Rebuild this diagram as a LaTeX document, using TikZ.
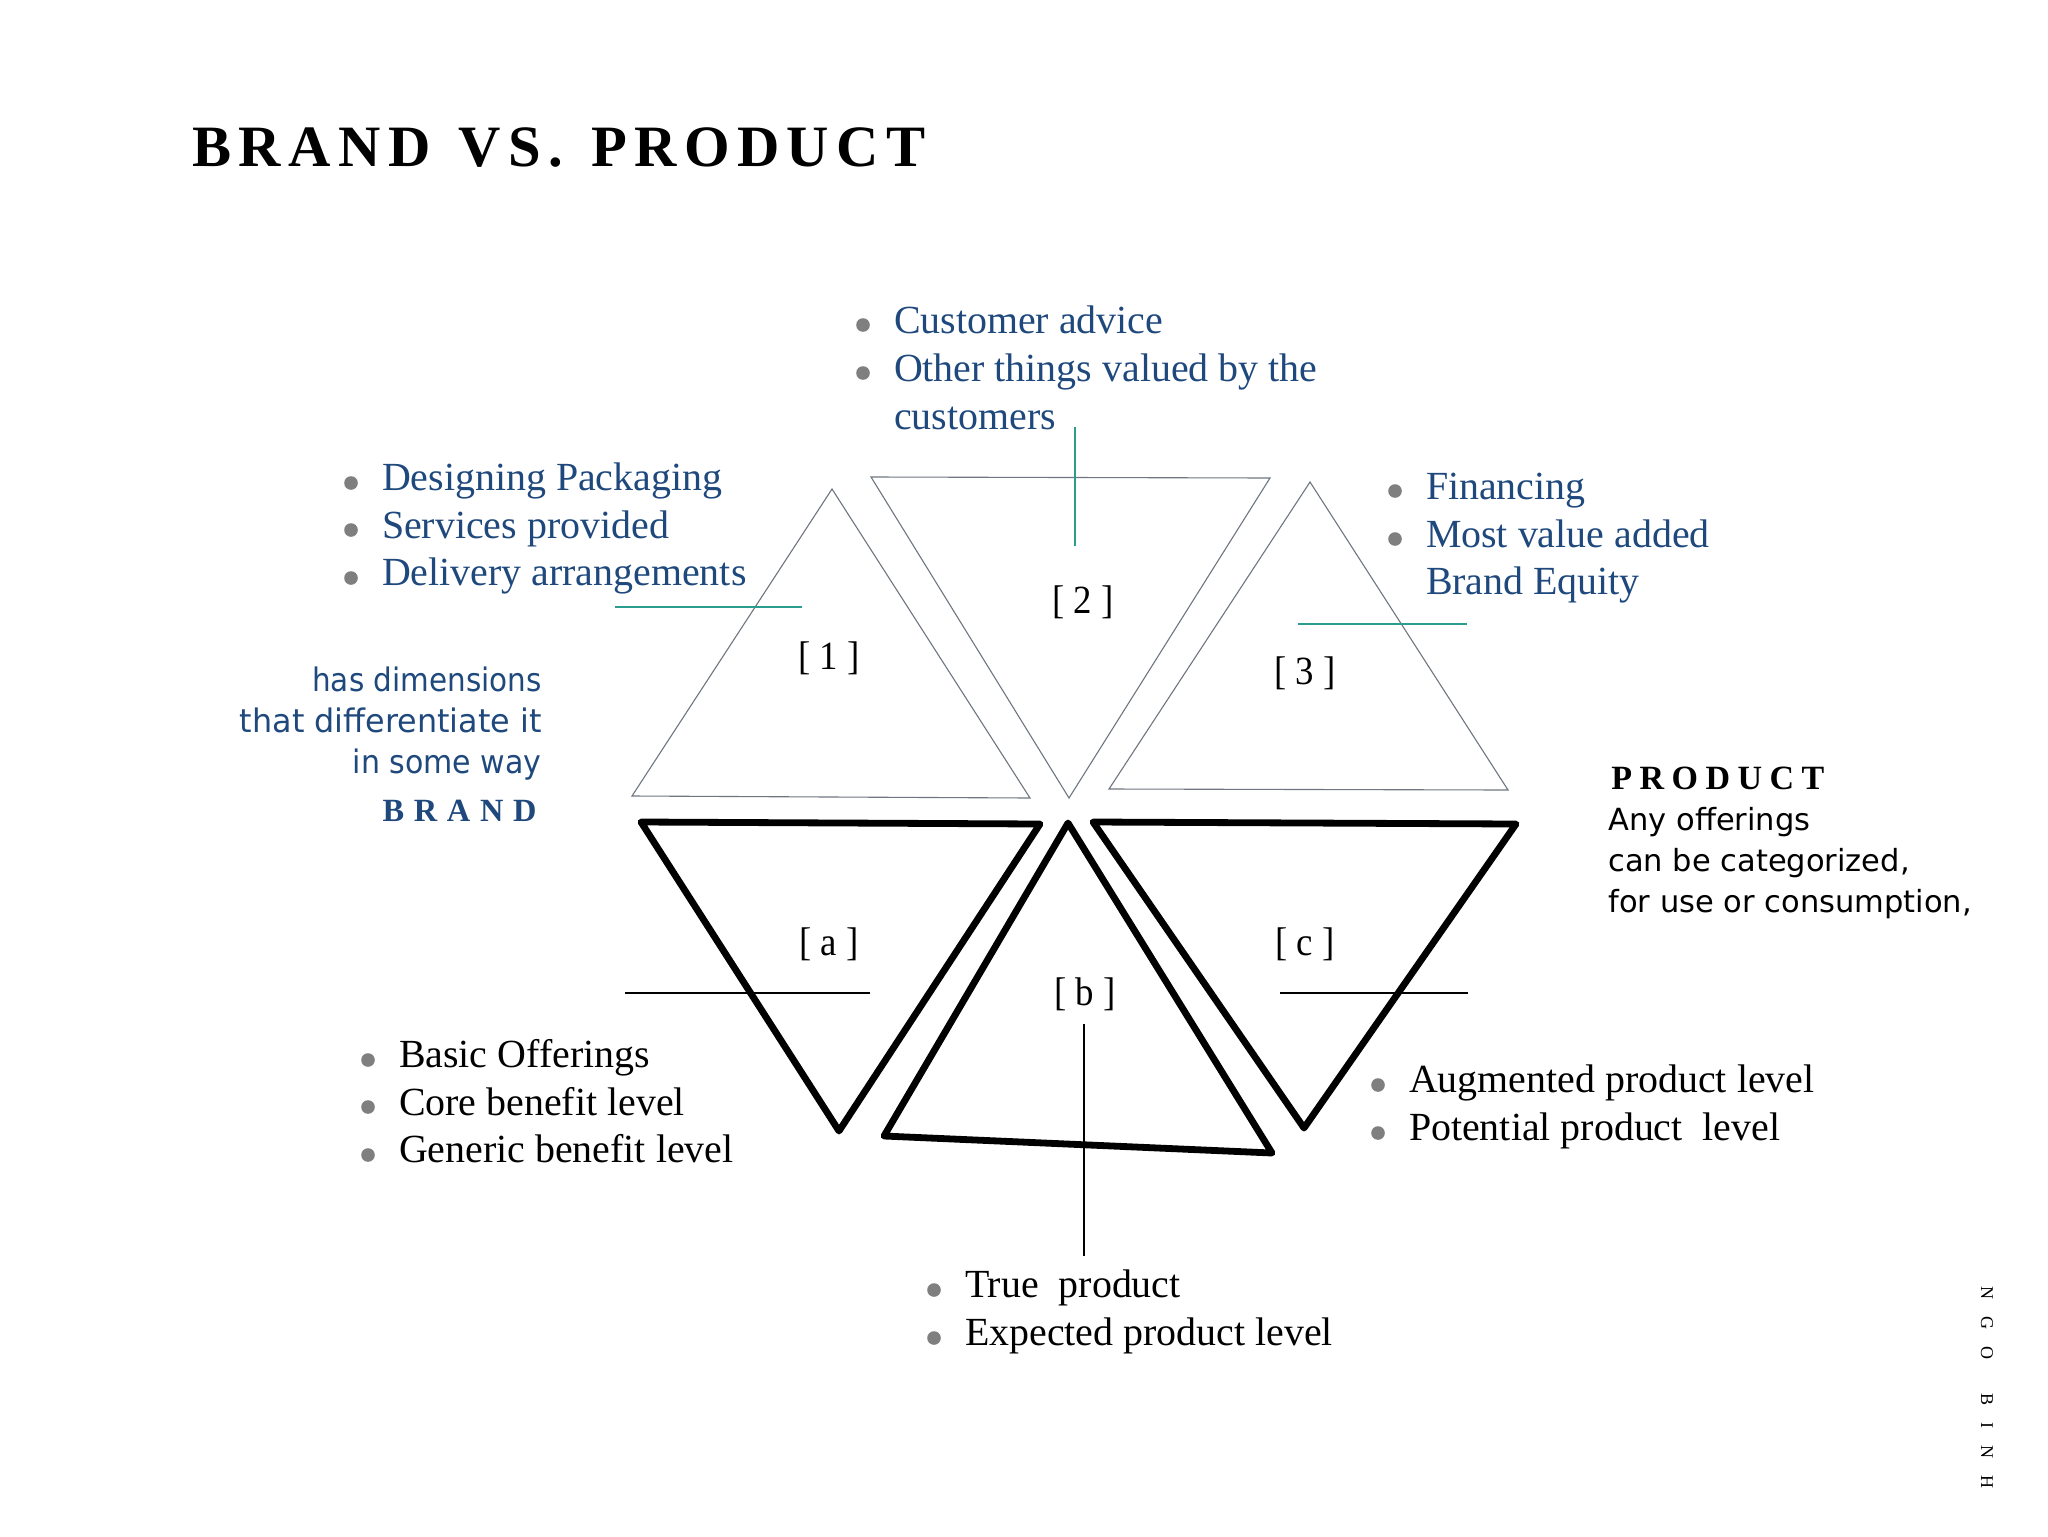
\documentclass[tikz,border=0pt]{standalone}
\usepackage{fontspec}
\setmainfont{Liberation Serif}
\newfontfamily\brandsans[FakeStretch=0.94]{DejaVu Sans}
\newfontfamily\prodsans{DejaVu Sans}
\newfontfamily\titlefont[LetterSpace=12.7]{Liberation Serif}
\newfontfamily\headfont[LetterSpace=30]{Liberation Serif}
\newfontfamily\prodheadfont[LetterSpace=22]{Liberation Serif}
\newfontfamily\sidefont[LetterSpace=95]{Liberation Serif}
\newcommand{\brk}[1]{\scalebox{.92}[1]{#1}}
\definecolor{navy}{HTML}{1F497D}
\definecolor{tealline}{HTML}{2A9D8F}
\definecolor{bulletgray}{HTML}{7F7F7F}
\definecolor{thinline}{HTML}{6F7680}
\tikzset{
  txt/.style={anchor=base west,inner sep=0pt,outer sep=0pt,font=\fontsize{19.95}{24}\selectfont},
  bluetxt/.style={txt,text=navy},
  blacktxt/.style={txt,text=black},
  bul/.style={circle,fill=bulletgray,inner sep=0pt,minimum size=6.8pt},
  lab/.style={anchor=center,inner sep=0pt,font=\fontsize{20}{24}\selectfont},
  brandtxt/.style={anchor=base east,inner sep=0pt,text=navy,font=\brandsans\fontsize{16.2}{20}\selectfont},
  prodtxt/.style={anchor=base west,inner sep=0pt,text=black,font=\prodsans\fontsize{15.25}{20}\selectfont},
  thintri/.style={draw=thinline,line width=0.55pt,line join=miter},
  boldtri/.style={draw=black,line width=3.4pt,line join=round},
  tealrule/.style={draw=tealline,line width=1.2pt},
  blackrule/.style={draw=black,line width=0.8pt}
}
\begin{document}
\begin{tikzpicture}[x=0.5pt,y=-0.5pt]
\useasboundingbox (0,0) rectangle (2048,1536);
\fill[white] (0,0) rectangle (2048,1536);
% title
\node[anchor=base west,inner sep=0pt,font=\titlefont\bfseries\fontsize{29.3}{34}\selectfont] (title) at (192,166) {BRAND\hspace{3pt} VS.\hspace{3pt} PRODUCT};
% upper triangles
\draw[thintri] (832,489) -- (632,796) -- (1030,798) -- cycle;
\draw[thintri] (871,477) -- (1270,478) -- (1069,798) -- cycle;
\draw[thintri] (1310,482) -- (1109,789) -- (1508,790) -- cycle;
% lower triangles
\draw[boldtri] (641,822) -- (1040,824) -- (839,1131) -- cycle;
\draw[boldtri] (1068,823) -- (1272,1153) -- (884,1136) -- cycle;
\draw[boldtri] (1093,822) -- (1516,824) -- (1304,1128) -- cycle;
% rule ends
\coordinate (r1a) at (615,607); \coordinate (r1b) at (802,607);
\coordinate (r2a) at (1075,427); \coordinate (r2b) at (1075,546);
\coordinate (r3a) at (1298,624); \coordinate (r3b) at (1467,624);
\coordinate (rAa) at (625,993); \coordinate (rAb) at (870,993);
\coordinate (rBa) at (1084,1024); \coordinate (rBb) at (1084,1256);
\coordinate (rCa) at (1280,993); \coordinate (rCb) at (1468,993);
\draw[tealrule] (r1a) -- (r1b);
\draw[tealrule] (r2a) -- (r2b);
\draw[tealrule] (r3a) -- (r3b);
\draw[blackrule] (rAa) -- (rAb);
\draw[blackrule] (rBa) -- (rBb);
\draw[blackrule] (rCa) -- (rCb);
% triangle labels
\node[lab] (l1) at (829,658) {\brk{[ 1 ]}};
\node[lab] (l2) at (1083,602) {\brk{[ 2 ]}};
\node[lab] (l3) at (1305,673) {\brk{[ 3 ]}};
\node[lab] (la) at (829,944) {\brk{[ a ]}};
\node[lab] (lb) at (1085,994) {\brk{[ b ]}};
\node[lab] (lc) at (1305,944) {\brk{[ c ]}};
% top list
\node[bul] (b21) at (863,325) {}; \node[bluetxt] (t21) at (894,333) {Customer advice};
\node[bul] (b22) at (863,373) {}; \node[bluetxt] (t22) at (894,381) {Other things valued by the};
\node[bluetxt] (t23) at (894,429) {customers};
% left list
\node[bul] (b11) at (351,483) {}; \node[bluetxt] (t11) at (382,490) {Designing Packaging};
\node[bul] (b12) at (351,530) {}; \node[bluetxt] (t12) at (382,538) {Services provided};
\node[bul] (b13) at (351,578) {}; \node[bluetxt] (t13) at (382,585) {Delivery arrangements};
% right list
\node[bul] (b31) at (1395,491) {}; \node[bluetxt] (t31) at (1426,499) {Financing};
\node[bul] (b32) at (1395,539) {}; \node[bluetxt] (t32) at (1426,547) {Most value added};
\node[bluetxt] (t33) at (1426,594) {Brand Equity};
% brand text
\node[brandtxt] (br1) at (542,691) {\scalebox{.967}[1]{has dimensions}};
\node[brandtxt] (br2) at (542,732) {\scalebox{1.045}[1]{that differentiate it}};
\node[brandtxt] (br3) at (542,773) {\scalebox{.986}[1]{in some way}};
\node[anchor=base east,inner sep=0pt,text=navy,font=\headfont\bfseries\fontsize{16.2}{20}\selectfont] (br4) at (537,821) {BRAND};
% product text
\node[anchor=base west,inner sep=0pt,font=\prodheadfont\bfseries\fontsize{17}{20}\selectfont] (pr1) at (1611,789) {PRODUCT};
\node[prodtxt] (pr2) at (1608,830) {Any offerings};
\node[prodtxt] (pr3) at (1608,871) {can be categorized,};
\node[prodtxt] (pr4) at (1608,912) {for use or consumption,};
% lower left list
\node[bul] (ba1) at (368,1060) {}; \node[blacktxt] (ta1) at (399,1067) {Basic Offerings};
\node[bul] (ba2) at (368,1107) {}; \node[blacktxt] (ta2) at (399,1115) {Core benefit level};
\node[bul] (ba3) at (368,1155) {}; \node[blacktxt] (ta3) at (399,1162) {Generic benefit level};
% lower centre list
\node[bul] (bb1) at (934,1290) {}; \node[blacktxt] (tb1) at (965,1297) {True\ \ product};
\node[bul] (bb2) at (934,1338) {}; \node[blacktxt] (tb2) at (965,1345) {Expected product level};
% lower right list
\node[bul] (bc1) at (1378,1085) {}; \node[blacktxt] (tc1) at (1409,1092) {Augmented product level};
\node[bul] (bc2) at (1378,1133) {}; \node[blacktxt] (tc2) at (1409,1140) {Potential product\ \ level};
% side
\node[anchor=west,inner sep=0pt,rotate=-90,font=\sidefont\fontsize{9}{10}\selectfont] (side) at (1987,1286) {NGO\hspace{6pt} BINH};
\end{tikzpicture}
\end{document}
